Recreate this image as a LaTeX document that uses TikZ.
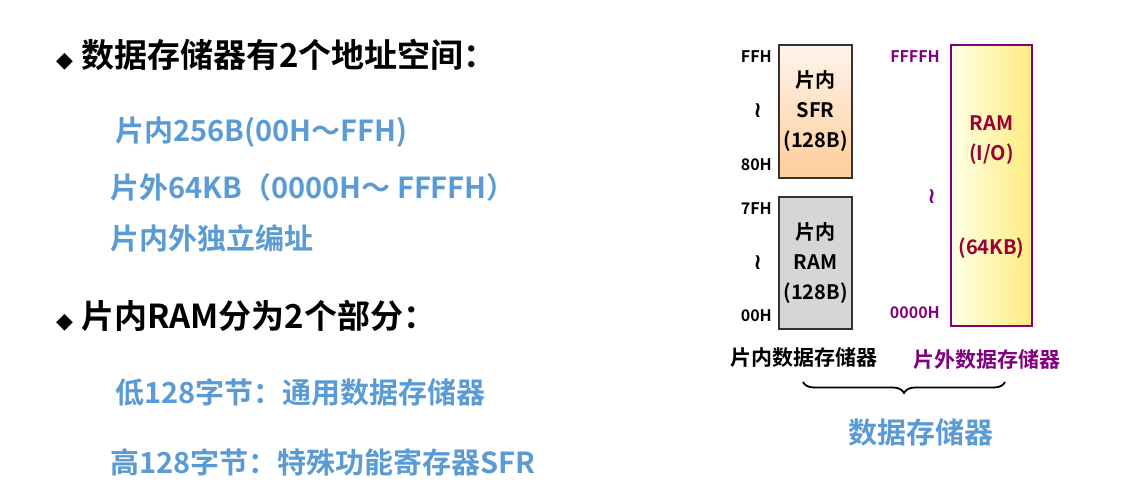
\documentclass[tikz,border=0pt]{standalone}
\usepackage{fontspec}
\setmainfont{Noto Sans CJK SC}[BoldFont={* Bold}]
\newfontfamily\symf{DejaVu Sans}
\usetikzlibrary{decorations.pathreplacing}
\definecolor{lblue}{HTML}{5B9BD5}
\definecolor{purp}{HTML}{800080}
\definecolor{wine}{HTML}{990033}
\tikzset{x=1pt,y=-1pt,
 head/.style={anchor=west,font=\bfseries\fontsize{33}{36}\selectfont,inner sep=0},
 item/.style={anchor=west,font=\bfseries\fontsize{29}{32}\selectfont,text=lblue,inner sep=0},
 addr/.style={anchor=east,font=\bfseries\fontsize{16}{18}\selectfont,inner sep=0},
 boxt/.style={font=\bfseries\fontsize{20}{30}\selectfont,align=center},
 mem/.style={draw=black!80,line width=2.2pt}}
\begin{document}
\begin{tikzpicture}
\useasboundingbox (0,0) rectangle (1121,490);
\node[head] (h1) at (56,55) {{\symf\fontsize{22}{24}\selectfont◆}\hspace{8pt}数据存储器有2个地址空间：};
\node[item] (i1) at (115,132) {片内256B(00H～FFH)};
\node[item] (i2) at (110,187) {片外64KB（0000H～ FFFFH）};
\node[item] (i3) at (110,238) {片内外独立编址};
\node[head] (h2) at (56,316) {{\symf\fontsize{22}{24}\selectfont◆}\hspace{8pt}片内RAM分为2个部分：};
\node[item] (i4) at (115,392) {低128字节：通用数据存储器};
\node[item] (i5) at (110,462) {高128字节：特殊功能寄存器SFR};
% boxes
\path[mem,top color=orange!8,bottom color=orange!40] (779,45) rectangle (852,178);
\node[boxt] (sfr) at (815.5,111) {片内\\SFR\\(128B)};
\path[mem,fill=black!16] (779,197) rectangle (852,329);
\node[boxt] (ram) at (815.5,263) {片内\\RAM\\(128B)};
\path[draw=purp,line width=2.2pt,left color=yellow!10!white,right color=orange!30!yellow!50] (951,45) rectangle (1032,326);
\node[boxt,text=wine] (xr) at (991.5,140) {RAM\\(I/O)};
\node[boxt,text=wine] (xk) at (991.5,248) {(64KB)};
% addresses
\node[addr] (a1) at (772,57) {FFH};
\node[addr] (a2) at (762,111) {\symf\fontsize{22}{24}\selectfont ≀};
\node[addr] (a3) at (772,165) {80H};
\node[addr] (a4) at (772,209) {7FH};
\node[addr] (a5) at (762,263) {\symf\fontsize{22}{24}\selectfont ≀};
\node[addr] (a6) at (772,316) {00H};
\node[addr,text=purp] (b1) at (940,57) {FFFFH};
\node[addr,text=purp] (b2) at (936,197) {\symf\fontsize{22}{24}\selectfont ≀};
\node[addr,text=purp] (b3) at (940,313) {0000H};
\node[anchor=center,font=\bfseries\fontsize{21}{24}\selectfont] (l1) at (804,358) {片内数据存储器};
\node[anchor=center,font=\bfseries\fontsize{21}{24}\selectfont,text=purp] (l2) at (987,360) {片外数据存储器};
\draw[line width=1.8pt,decorate,decoration={brace,mirror,amplitude=11pt}] (803,382) -- (1005,382);
\node[font=\bfseries\fontsize{29}{32}\selectfont,text=lblue] (l3) at (921,432) {数据存储器};
\end{tikzpicture}
\end{document}
